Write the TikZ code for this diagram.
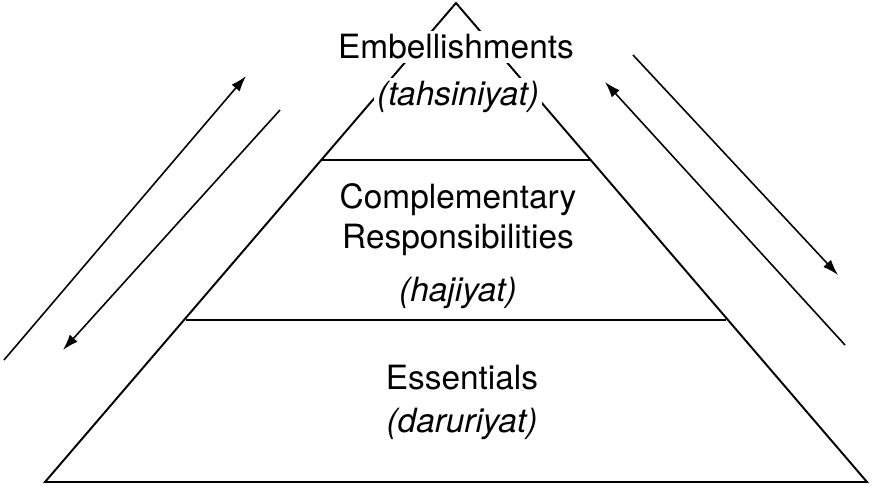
\documentclass[tikz,border=0pt]{standalone}
\usepackage{fontspec}
\setmainfont{TeX Gyre Heros}
\usetikzlibrary{arrows.meta}
\begin{document}
\begin{tikzpicture}[x=0.02cm,y=-0.02cm,
  lbl/.style={fill=white,inner sep=2pt,font=\fontsize{19}{22}\selectfont},
  edge/.style={line width=1.1pt},
  arr/.style={line width=0.9pt,-{Latex[length=9pt,width=6pt]}}]
\useasboundingbox (0,0) rectangle (873,487);
\coordinate (apex) at (456,3);
\coordinate (bl) at (45,482);
\coordinate (br) at (867,482);
\draw[edge] (bl) -- (apex) -- (br) -- cycle;
\draw[edge] (322,160) -- (590,160);
\draw[edge] (186,320) -- (726,320);
\node[lbl] (e1) at (456,47) {Embellishments};
\node[lbl] (e2) at (458,97) {\itshape (tahsiniyat)};
\node[lbl] (c1) at (458,200) {Complementary};
\node[lbl] (c2) at (458,240) {Responsibilities};
\node[lbl] (c3) at (458,293) {\itshape (hajiyat)};
\node[lbl] (s1) at (462,378) {Essentials};
\node[lbl] (s2) at (462,424) {\itshape (daruriyat)};
\coordinate (l1a) at (4,360); \coordinate (l1b) at (246,76);
\coordinate (l2a) at (280,110); \coordinate (l2b) at (63,350);
\coordinate (r1a) at (633,55); \coordinate (r1b) at (838,275);
\coordinate (r2a) at (845,345); \coordinate (r2b) at (605,82);
\draw[arr] (l1a) -- (l1b);
\draw[arr] (l2a) -- (l2b);
\draw[arr] (r1a) -- (r1b);
\draw[arr] (r2a) -- (r2b);
\end{tikzpicture}
\end{document}
